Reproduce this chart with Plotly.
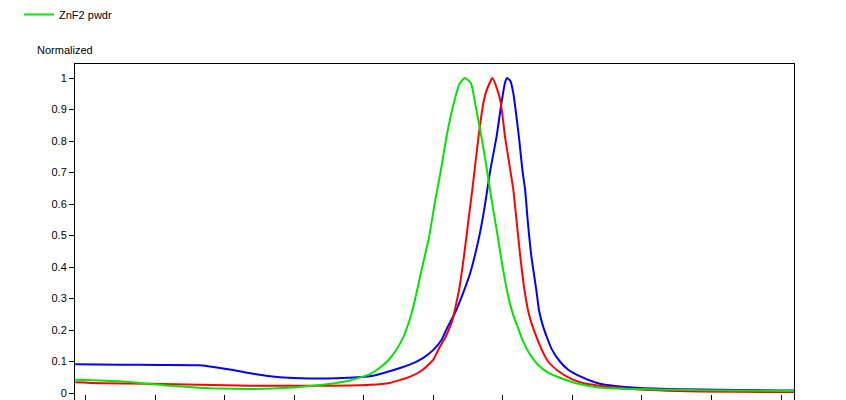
import plotly.graph_objects as go

# spettri normalizzati (x in unità arbitrarie)
blue_x = [298.5, 304.9, 310.7, 316.4, 318.6, 321.4, 324.3, 327.9, 330.8, 336.0, 340.9, 343.7,
          346.6, 348.5, 350.0, 351.2, 351.8, 353.1, 354.1, 355.3, 356.5, 357.3, 358.2, 359.1,
          359.8, 360.3, 360.6, 361.1, 361.5, 361.7, 362.3, 362.8, 363.2, 363.6, 364.1, 364.8,
          365.2, 365.8, 367.0, 368.2, 369.4, 371.3, 373.2, 374.7, 379.7, 388.4, 399.9, 401.9]
blue_y = [0.091, 0.090, 0.089, 0.088, 0.082, 0.072, 0.060, 0.050, 0.047, 0.047, 0.053, 0.069,
          0.090, 0.111, 0.137, 0.169, 0.198, 0.254, 0.307, 0.381, 0.487, 0.580, 0.709, 0.815,
          0.921, 0.984, 1.0, 0.990, 0.952, 0.921, 0.815, 0.709, 0.645, 0.540, 0.434, 0.328,
          0.262, 0.210, 0.140, 0.100, 0.074, 0.051, 0.034, 0.026, 0.016, 0.011, 0.008, 0.008]

red_x = [298.5, 302.0, 309.2, 316.4, 323.6, 335.1, 340.9, 343.7, 346.6, 348.5, 350.0, 350.9,
         351.7, 352.2, 352.7, 353.2, 353.7, 354.4, 355.0, 355.6, 356.5, 357.2, 357.7, 358.5,
         359.2, 359.7, 360.3, 361.5, 362.0, 362.5, 363.1, 363.7, 364.5, 365.6, 366.5, 368.0,
         369.9, 371.8, 374.7, 378.3, 388.4, 399.9, 401.9]
red_y = [0.034, 0.031, 0.029, 0.026, 0.023, 0.023, 0.026, 0.032, 0.051, 0.074, 0.106, 0.145,
         0.175, 0.200, 0.228, 0.275, 0.328, 0.434, 0.540, 0.645, 0.815, 0.921, 0.963, 1.0,
         0.963, 0.921, 0.815, 0.645, 0.540, 0.434, 0.328, 0.254, 0.197, 0.137, 0.100, 0.069,
         0.044, 0.030, 0.021, 0.013, 0.005, 0.003, 0.003]

green_x = [298.5, 304.9, 312.1, 319.3, 326.9, 332.7, 338.0, 340.9, 342.3, 343.7, 344.7, 345.7,
           346.4, 346.9, 347.4, 348.2, 349.4, 350.2, 351.1, 351.9, 352.6, 353.2, 353.7, 354.5,
           355.4, 356.0, 356.9, 357.7, 358.4, 359.2, 360.0, 361.0, 361.6, 362.2, 362.9, 363.9,
           365.1, 366.5, 368.5, 370.4, 372.8, 374.7, 388.4, 401.9]
green_y = [0.042, 0.037, 0.023, 0.014, 0.014, 0.023, 0.040, 0.060, 0.080, 0.108, 0.138, 0.178,
           0.220, 0.255, 0.300, 0.380, 0.497, 0.603, 0.709, 0.815, 0.889, 0.942, 0.979, 1.0,
           0.984, 0.921, 0.815, 0.709, 0.610, 0.505, 0.395, 0.285, 0.240, 0.205, 0.164, 0.122,
           0.088, 0.065, 0.046, 0.032, 0.021, 0.016, 0.009, 0.006]

x_ticks = [300, 310, 320, 330, 340, 350, 360, 370, 380, 390, 400]

fig = go.Figure()
fig.add_trace(go.Scatter(x=blue_x, y=blue_y, mode='lines', name='blue', showlegend=False,
                         line=dict(color='#0000ff', width=2, shape='spline', smoothing=0.5)))
fig.add_trace(go.Scatter(x=red_x, y=red_y, mode='lines', name='red', showlegend=False,
                         line=dict(color='#ff0000', width=2, shape='spline', smoothing=0.5)))
fig.add_trace(go.Scatter(x=green_x, y=green_y, mode='lines', name='ZnF2 pwdr',
                         line=dict(color='#00e600', width=2, shape='spline', smoothing=0.5)))

fig.update_layout(
    width=846, height=400,
    margin=dict(l=75, r=52, t=64, b=0, autoexpand=False),
    plot_bgcolor='white', paper_bgcolor='white',
    font=dict(family='Liberation Sans, Arial', size=11, color='black'),
    showlegend=True,
    legend=dict(xref='container', yref='container', x=0.0225, y=1.04,
                xanchor='left', yanchor='top', bgcolor='rgba(0,0,0,0)',
                font=dict(size=11), itemwidth=30),
    xaxis=dict(range=[298.46, 401.87], tickvals=x_ticks, ticks='inside', ticklen=5,
               tickcolor='black', showticklabels=False, showgrid=False, zeroline=False,
               showline=True, linecolor='black', linewidth=1, mirror=True),
    yaxis=dict(range=[-0.0222, 1.0445], dtick=0.1, tick0=0, ticks='outside', ticklen=5,
               tickcolor='black', showgrid=False, zeroline=False,
               showline=True, linecolor='black', linewidth=1, mirror=True),
    annotations=[dict(text='Normalized', xref='paper', yref='paper', x=-0.056, y=1.042,
                      xanchor='left', yanchor='middle', showarrow=False, font=dict(size=11))],
)

# tolgo il margine della pagina così il grafico parte dall'angolo in alto a sinistra
fig.write_html("out.html", config={'displayModeBar': False},
               post_script="document.body.style.margin='0';")
